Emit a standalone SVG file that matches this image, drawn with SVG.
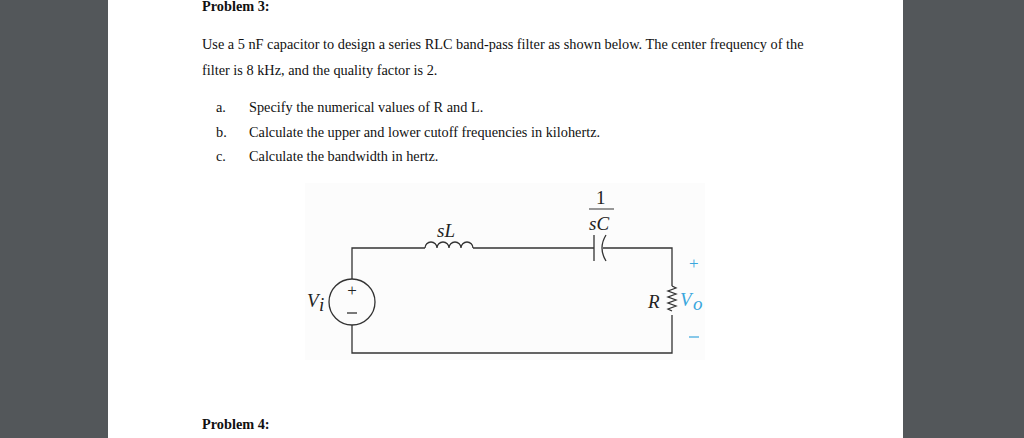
<svg xmlns="http://www.w3.org/2000/svg" width="1024" height="438" viewBox="0 0 1024 438">
<style>
.t{font-family:"Liberation Serif",serif;font-size:14.3px;fill:#111}
.b{font-weight:bold}
.w{stroke:#333;stroke-width:1.3;fill:none}
.m{font-family:"Liberation Serif",serif;font-style:italic;font-size:19px;fill:#222}
.c{fill:#3aa6dd}
</style>
<rect width="1024" height="438" fill="#53575a"/>
<rect x="108" y="0" width="795" height="438" fill="#fff"/>
<text class="t b" x="202" y="11">Problem 3:</text>
<text class="t" x="202" y="49">Use a 5 nF capacitor to design a series RLC band-pass filter as shown below. The center frequency of the</text>
<text class="t" x="202" y="75">filter is 8 kHz, and the quality factor is 2.</text>
<text class="t" x="216" y="112">a.</text><text class="t" x="249" y="112">Specify the numerical values of R and L.</text>
<text class="t" x="216" y="137">b.</text><text class="t" x="249" y="137">Calculate the upper and lower cutoff frequencies in kilohertz.</text>
<text class="t" x="216" y="161">c.</text><text class="t" x="249" y="161">Calculate the bandwidth in hertz.</text>
<text class="t b" x="202" y="429">Problem 4:</text>
<rect x="305" y="183" width="400" height="177" fill="#fcfcfc"/>
<g id="wires">
<path class="w" d="M352 279V248H425M473 248H594M603 248H672V286M672 315V353H352V325"/>
</g>
<g id="L"><path class="w" d="M425 248a6 6 0 0 1 12 0a6 6 0 0 1 12 0a6 6 0 0 1 12 0a6 6 0 0 1 12 0"/>
<text class="m" x="437" y="237">sL</text></g>
<g id="C"><path class="w" d="M594 235V261M606 235Q598 248 606 261"/>
<text x="596" y="204" font-family="Liberation Serif" font-size="19" fill="#222">1</text><line x1="589" y1="209" x2="614" y2="209" stroke="#333" stroke-width="1"/>
<text class="m" x="589" y="230">sC</text></g>
<g id="Vi"><circle class="w" cx="352" cy="302" r="23"/>
<text x="352" y="296" text-anchor="middle" font-family="Liberation Serif" font-size="17" fill="#222">+</text>
<line x1="347" y1="313" x2="357" y2="313" stroke="#222" stroke-width="1.2"/>
<text class="m" x="307" y="307">V</text><text class="m" x="319" y="311" font-size="13">i</text></g>
<g id="R"><path class="w" d="M672 286l4 2l-8 3l8 3l-8 3l8 3l-8 3l8 3l-8 3l4 2"/>
<text class="m" x="648" y="308">R</text>
<text class="m c" x="680" y="306">V</text><text class="m c" x="693" y="310" font-size="13">o</text>
<text class="c" x="689" y="269" font-family="Liberation Serif" font-size="17">+</text>
<line x1="689" y1="337" x2="699" y2="337" stroke="#3aa6dd" stroke-width="1.2"/></g>
</svg>
